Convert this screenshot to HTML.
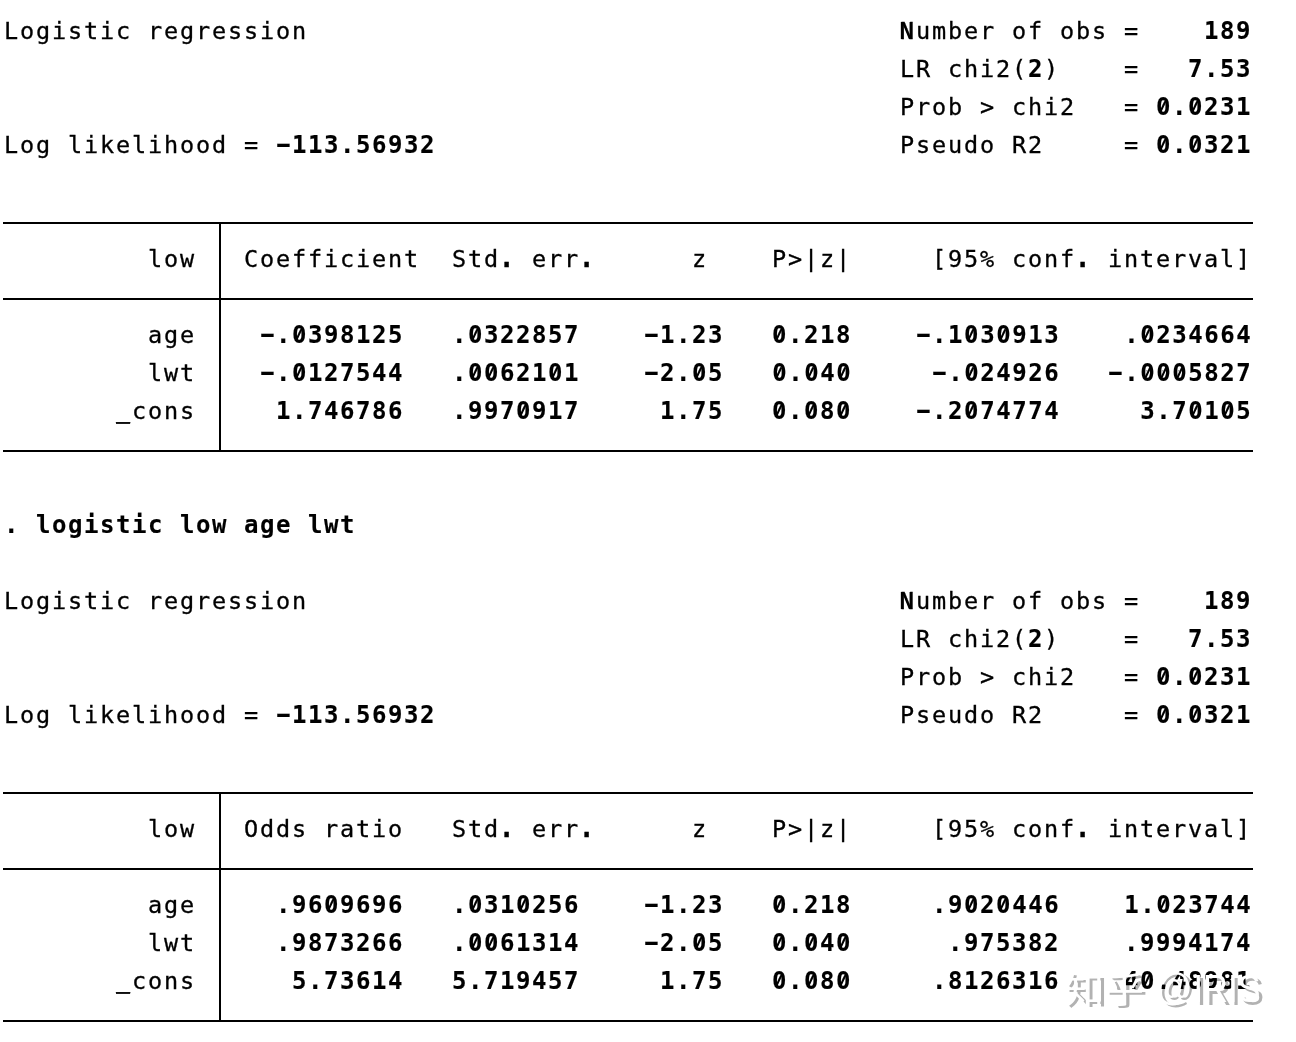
<!DOCTYPE html>
<html lang="en">
<head>
<meta charset="utf-8">
<title>Stata logistic regression output</title>
<style>
html,body{margin:0;padding:0;background:#fff;}
body{width:1296px;height:1042px;position:relative;overflow:hidden;}
#out{position:absolute;left:3.9px;top:0;width:1290px;height:1042px;
  font-family:"DejaVu Sans Mono","Liberation Mono",monospace;
  font-size:23.5px;letter-spacing:1.852px;line-height:38px;color:#000;
  -webkit-text-stroke:0.3px #000;}
.l{position:absolute;left:0;white-space:pre;height:38px;margin:0;font:inherit;}
b{font-weight:bold;font-size:24px;letter-spacing:1.551px;line-height:1px;-webkit-text-stroke:0.15px #000;}
.m{display:inline-block;transform:translate(0.3px,-0.4px) scale(1.65,0.95);transform-origin:7.22px 50%;}
.n{text-shadow:-0.75px 0 0 #000;}
.p{display:inline-block;transform:scale(1.4);transform-origin:8.2px 27.1px;}
.u{position:relative;top:-2px;text-shadow:0 1px 0 #000;}
.z{position:relative;}
.z::before{content:"";position:absolute;left:5.3px;top:11.3px;width:3.9px;height:4.6px;background:#fff;border-radius:50%;}
.z::after{content:"";position:absolute;left:6.2px;top:8.3px;width:1.8px;height:10.5px;background:#000;transform:rotate(25deg);}
.h{position:absolute;left:-0.9px;width:1250px;height:2px;background:#000;}
.v{position:absolute;left:215.1px;width:2px;background:#000;}
#wm{position:absolute;left:0;top:968px;height:44px;width:1296px;
  font-family:"Liberation Sans","Noto Sans CJK SC",sans-serif;
  font-size:36px;line-height:44px;color:#fff;white-space:pre;
  text-shadow:3.3px 2.6px 0.3px rgba(0,0,0,0.3);}
#wm span{position:absolute;top:0;transform-origin:0 50%;}
</style>
</head>
<body>
<div id="out">
<pre class="l" style="top:12px">Logistic regression                                     <span class="n">N</span>umber of obs =    <b>189</b></pre>
<pre class="l" style="top:50px">                                                        LR chi2(<b>2</b>)    =   <b>7.53</b></pre>
<pre class="l" style="top:88px">                                                        Prob &gt; chi2   = <b><span class="z">0</span>.<span class="z">0</span>231</b></pre>
<pre class="l" style="top:126px">Log likelihood =<b> <span class="m">-</span>113.56932</b>                             Pseudo R2     = <b><span class="z">0</span>.<span class="z">0</span>321</b></pre>
<div class="h" style="top:222px"></div>
<pre class="l" style="top:240px">         low   Coefficient  Std<span class="p">.</span> err<span class="p">.</span>      z    P&gt;|z|     [95% conf<span class="p">.</span> interval]</pre>
<div class="h" style="top:298px"></div>
<pre class="l" style="top:316px">         age   <b> <span class="m">-</span>.<span class="z">0</span>398125   .<span class="z">0</span>322857    <span class="m">-</span>1.23   <span class="z">0</span>.218    <span class="m">-</span>.1<span class="z">0</span>3<span class="z">0</span>913    .<span class="z">0</span>234664</b></pre>
<pre class="l" style="top:354px">         lwt   <b> <span class="m">-</span>.<span class="z">0</span>127544   .<span class="z">0</span><span class="z">0</span>621<span class="z">0</span>1    <span class="m">-</span>2.<span class="z">0</span>5   <span class="z">0</span>.<span class="z">0</span>4<span class="z">0</span>     <span class="m">-</span>.<span class="z">0</span>24926   <span class="m">-</span>.<span class="z">0</span><span class="z">0</span><span class="z">0</span>5827</b></pre>
<pre class="l" style="top:392px">       <span class="u">_</span>cons   <b>  1.746786   .997<span class="z">0</span>917     1.75   <span class="z">0</span>.<span class="z">0</span>8<span class="z">0</span>    <span class="m">-</span>.2<span class="z">0</span>74774     3.7<span class="z">0</span>1<span class="z">0</span>5</b></pre>
<div class="h" style="top:450px"></div>
<div class="v" style="top:222px;height:230px"></div>
<pre class="l" style="top:506px"><b>. logistic low age lwt</b></pre>
<pre class="l" style="top:582px">Logistic regression                                     <span class="n">N</span>umber of obs =    <b>189</b></pre>
<pre class="l" style="top:620px">                                                        LR chi2(<b>2</b>)    =   <b>7.53</b></pre>
<pre class="l" style="top:658px">                                                        Prob &gt; chi2   = <b><span class="z">0</span>.<span class="z">0</span>231</b></pre>
<pre class="l" style="top:696px">Log likelihood =<b> <span class="m">-</span>113.56932</b>                             Pseudo R2     = <b><span class="z">0</span>.<span class="z">0</span>321</b></pre>
<div class="h" style="top:792px"></div>
<pre class="l" style="top:810px">         low   Odds ratio   Std<span class="p">.</span> err<span class="p">.</span>      z    P&gt;|z|     [95% conf<span class="p">.</span> interval]</pre>
<div class="h" style="top:868px"></div>
<pre class="l" style="top:886px">         age   <b>  .96<span class="z">0</span>9696   .<span class="z">0</span>31<span class="z">0</span>256    <span class="m">-</span>1.23   <span class="z">0</span>.218     .9<span class="z">0</span>2<span class="z">0</span>446    1.<span class="z">0</span>23744</b></pre>
<pre class="l" style="top:924px">         lwt   <b>  .9873266   .<span class="z">0</span><span class="z">0</span>61314    <span class="m">-</span>2.<span class="z">0</span>5   <span class="z">0</span>.<span class="z">0</span>4<span class="z">0</span>      .975382    .9994174</b></pre>
<pre class="l" style="top:962px">       <span class="u">_</span>cons   <b>   5.73614   5.719457     1.75   <span class="z">0</span>.<span class="z">0</span>8<span class="z">0</span>     .8126316    4<span class="z">0</span>.48981</b></pre>
<div class="h" style="top:1020px"></div>
<div class="v" style="top:792px;height:230px"></div>
</div>
<div id="wm"><span style="left:1063.8px;top:0.5px;font-size:36px;transform:scale(1.11,0.97)">知乎</span> <span style="left:1155.5px;top:-3px;font-size:36px;transform:scale(0.98,1.06)">@</span><span style="left:1193.5px;top:-1.5px;font-size:34.5px;transform:scale(1,1.11)">IRIS</span></div>
</body>
</html>
